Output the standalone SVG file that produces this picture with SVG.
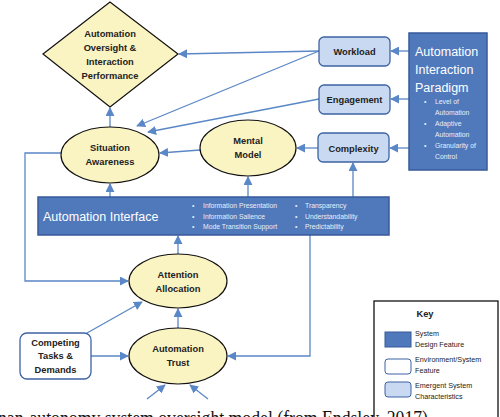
<svg xmlns="http://www.w3.org/2000/svg" width="500" height="417" viewBox="0 0 500 417">
<defs>
<marker id="ah" viewBox="0 0 10 10" refX="9" refY="5" markerWidth="9" markerHeight="9" markerUnits="userSpaceOnUse" orient="auto">
<path d="M0,0 L10,5 L0,10 Z" fill="#5A87C6"/>
</marker>
<style>
.c{fill:none;stroke:#5A87C6;stroke-width:1.3;marker-end:url(#ah)}
.el{fill:#FAF3C2;stroke:#111;stroke-width:1.2}
.lb{fill:#C9D9F1;stroke:#3D63A3;stroke-width:1.3}
.db{fill:#5079BC;stroke:#36599A;stroke-width:1.5}
.t{font-family:"Liberation Sans",Arial,sans-serif;font-weight:bold;font-size:9.3px;fill:#222;text-anchor:middle}
.w{font-family:"Liberation Sans",Arial,sans-serif;fill:#fff}
.s{font-family:"Liberation Sans",Arial,sans-serif;font-size:6.8px;fill:#E8EEF8}
.k{font-family:"Liberation Sans",Arial,sans-serif;font-size:7.2px;fill:#222}
</style>
</defs>
<rect width="500" height="417" fill="#fff"/>
<g id="connectors">
<path class="c" d="M319,51 L179,54"/>
<path class="c" d="M319,51 L137,126"/>
<path class="c" d="M319,99 L148,132"/>
<path class="c" d="M200,150 L160,153"/>
<path class="c" d="M110,127 L110,108"/>
<path class="c" d="M318,148 L297,148"/>
<path class="c" d="M409,51 L391,51"/>
<path class="c" d="M409,99 L391,99"/>
<path class="c" d="M409,148 L390,148"/>
<path class="c" d="M110,197 L110,184"/>
<path class="c" d="M248,197 L248,177"/>
<path class="c" d="M353,197 L353,163"/>
<path class="c" d="M178,254 L178,236"/>
<path class="c" d="M61,153 L25,153 L25,281 L128,281"/>
<path class="c" d="M310,235 L310,356 L228,356"/>
<path class="c" d="M87,333 L142,302"/>
<path class="c" d="M91,356 L128,356"/>
<path class="c" d="M178,328 L178,309"/>
<path class="c" d="M147,399 L165,385"/>
<path class="c" d="M208,399 L190,385"/>
</g>
<g id="oversight">
<path class="el" d="M43,54 L110,2 L178,54 L110,107 Z"/>
<text class="t" x="110" y="37">Automation</text>
<text class="t" x="110" y="51">Oversight &amp;</text>
<text class="t" x="110" y="65">Interaction</text>
<text class="t" x="110" y="79">Performance</text>
</g>
<g id="situation-awareness">
<ellipse class="el" cx="110" cy="155" rx="49" ry="28"/>
<text class="t" x="110" y="151">Situation</text>
<text class="t" x="110" y="165">Awareness</text>
</g>
<g id="mental-model">
<ellipse class="el" cx="248" cy="148" rx="48" ry="28"/>
<text class="t" x="248" y="144">Mental</text>
<text class="t" x="248" y="158">Model</text>
</g>
<g id="workload">
<rect class="lb" x="319" y="37" width="71" height="29" rx="5"/>
<text class="t" x="354.5" y="55">Workload</text>
</g>
<g id="engagement">
<rect class="lb" x="319" y="85" width="71" height="29" rx="5"/>
<text class="t" x="354.5" y="103">Engagement</text>
</g>
<g id="complexity">
<rect class="lb" x="318" y="133" width="71" height="29" rx="5"/>
<text class="t" x="353.5" y="152">Complexity</text>
</g>
<g id="paradigm">
<rect class="db" x="409" y="33" width="78" height="137"/>
<text class="w" x="415" y="56" font-size="12.5">Automation</text>
<text class="w" x="415" y="74" font-size="12.5">Interaction</text>
<text class="w" x="415" y="92" font-size="12.5">Paradigm</text>
<text class="s" x="424" y="104">•</text><text class="s" x="435" y="104">Level of</text>
<text class="s" x="435" y="115">Automation</text>
<text class="s" x="424" y="126">•</text><text class="s" x="435" y="126">Adaptive</text>
<text class="s" x="435" y="137">Automation</text>
<text class="s" x="424" y="148">•</text><text class="s" x="435" y="148">Granularity of</text>
<text class="s" x="435" y="159">Control</text>
</g>
<g id="interface">
<rect class="db" x="38" y="197" width="351" height="38"/>
<text class="w" x="43" y="221" font-size="12.5">Automation Interface</text>
<text class="s" x="192" y="208">•</text><text class="s" x="203" y="208">Information Presentation</text>
<text class="s" x="192" y="218.5">•</text><text class="s" x="203" y="218.5">Information Salience</text>
<text class="s" x="192" y="229">•</text><text class="s" x="203" y="229">Mode Transition Support</text>
<text class="s" x="295" y="208">•</text><text class="s" x="305" y="208">Transparency</text>
<text class="s" x="295" y="218.5">•</text><text class="s" x="305" y="218.5">Understandability</text>
<text class="s" x="295" y="229">•</text><text class="s" x="305" y="229">Predictability</text>
</g>
<g id="attention">
<ellipse class="el" cx="178" cy="281" rx="49" ry="27"/>
<text class="t" x="178" y="278">Attention</text>
<text class="t" x="178" y="292">Allocation</text>
</g>
<g id="trust">
<ellipse class="el" cx="178" cy="356" rx="49" ry="28"/>
<text class="t" x="178" y="352">Automation</text>
<text class="t" x="178" y="366">Trust</text>
</g>
<g id="competing">
<rect x="20" y="333" width="71" height="46" rx="7" fill="#fff" stroke="#3D63A3" stroke-width="1.3"/>
<text class="t" x="55.5" y="346">Competing</text>
<text class="t" x="55.5" y="359">Tasks &amp;</text>
<text class="t" x="55.5" y="373">Demands</text>
</g>
<g id="key">
<rect x="374" y="301" width="124" height="130" fill="#fff" stroke="#111" stroke-width="1.3"/>
<text class="t" x="425" y="317" font-size="10">Key</text>
<rect x="385" y="332" width="26" height="15" fill="#5079BC" stroke="#36599A" stroke-width="1"/>
<text class="k" x="415" y="336">System</text>
<text class="k" x="415" y="347">Design Feature</text>
<rect x="385" y="359" width="26" height="15" rx="3" fill="#fff" stroke="#3D63A3" stroke-width="1"/>
<text class="k" x="415" y="362">Environment/System</text>
<text class="k" x="415" y="373">Feature</text>
<rect x="385" y="382" width="26" height="15" rx="3" fill="#C9D9F1" stroke="#3D63A3" stroke-width="1"/>
<text class="k" x="415" y="388">Emergent System</text>
<text class="k" x="415" y="399">Characteristics</text>
</g>
<text x="-2" y="425" font-family="Liberation Serif,Times New Roman,serif" font-size="20" fill="#111" textLength="430" lengthAdjust="spacingAndGlyphs">nan-autonomy system oversight model (from Endsley, 2017)</text>
</svg>
